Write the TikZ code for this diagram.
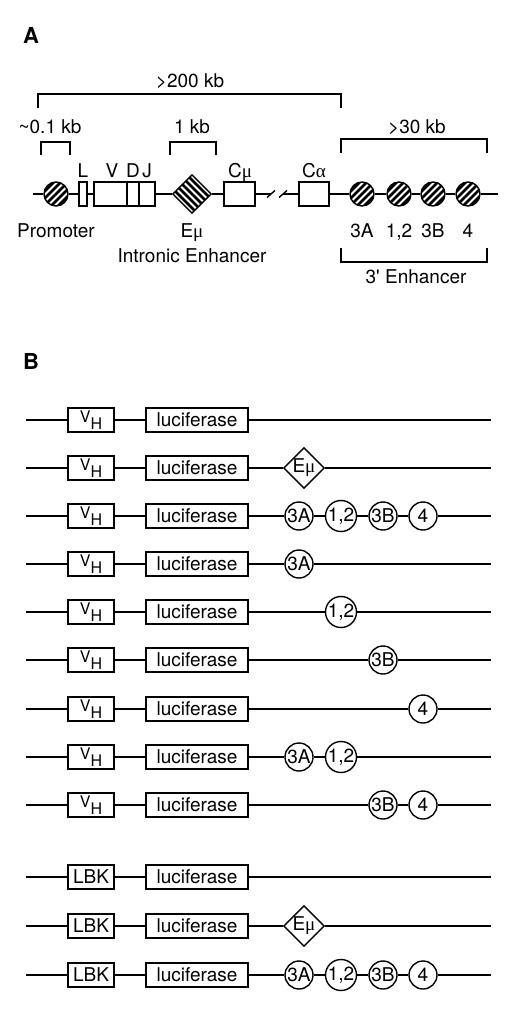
\documentclass[tikz,border=0pt]{standalone}
\usepackage{fontspec}
\setmainfont{TeX Gyre Heros}
\newfontfamily\greekfont{Liberation Serif}
\usetikzlibrary{shapes.geometric}
\tikzset{
    every node/.style={font=\fontsize{19}{21}\selectfont},
    dna/.style={line width=1.4pt},
    gene/.style={draw,line width=1.4pt,minimum height=24pt,inner sep=0pt},
    enh/.style={draw,circle,line width=1.4pt,minimum size=28pt,inner sep=0pt},
    emu/.style={draw,diamond,line width=1.4pt,minimum width=39pt,minimum height=39pt,inner sep=0pt},
    hatchup/.style={path picture={\foreach \off in {-42,-35,...,42}
        \draw[line width=2.6pt] ([xshift=\off pt]path picture bounding box.center) ++(-30pt,-30pt) -- ++(60pt,60pt);}},
    hatchdown/.style={path picture={\foreach \off in {-56,-49,...,56}
        \draw[line width=2.6pt] ([xshift=\off pt]path picture bounding box.center) ++(-30pt,30pt) -- ++(60pt,-60pt);}},
    panel/.style={font=\fontsize{22}{22}\selectfont\bfseries}
}
\def\mu{{\greekfont μ}}
\def\alp{{\greekfont α}}
\def\vh{{\fontsize{16}{16}\selectfont\raisebox{3.5pt}{V}\raisebox{-4pt}{H}}}
\def\reporter(#1)[#2]#3{% (row)[y] promoter
    \coordinate (#1s) at (26,#2);
    \coordinate (#1t) at (491,#2);
    \node[gene,minimum width=46pt] (#1p) at (91,#2) {#3};
    \node[gene,minimum width=102pt] (#1l) at (197,#2) {luciferase};}

\begin{document}
\begin{tikzpicture}[x=1pt,y=-1pt]
    % A: the locus
    \node[panel] (labA) at (31,35) {A};

    \coordinate (b200l) at (38,108);
    \coordinate (b200r) at (341,108);
    \draw[dna] (b200l) -- ++(0,-14) -| (b200r);
    \node[anchor=base] (t200) at (190,87) {>200 kb};

    \coordinate (bproml) at (41,155);
    \coordinate (bpromr) at (70,155);
    \draw[dna] (bproml) -- ++(0,-13) -| (bpromr);
    \node[anchor=base] (tprom) at (50,133) {\textasciitilde0.1 kb};

    \coordinate (bemul) at (170,155);
    \coordinate (bemur) at (216,155);
    \draw[dna] (bemul) -- ++(0,-13) -| (bemur);
    \node[anchor=base] (temu) at (192,133) {1 kb};

    \coordinate (b30l) at (341,153);
    \coordinate (b30r) at (487,153);
    \draw[dna] (b30l) -- ++(0,-14) -| (b30r);
    \node[anchor=base] (t30) at (417,133) {>30 kb};

    \coordinate (benhl) at (341,248);
    \coordinate (benhr) at (487,248);
    \draw[dna] (benhl) -- ++(0,14) -| (benhr);
    \node[anchor=base] (tenh) at (416,283) {3\textquotesingle{} Enhancer};

    \coordinate (lineA) at (33,194);
    \coordinate (endA) at (498,194);
    \coordinate (brkL) at (271,194);
    \coordinate (brkR) at (283,194);
    \node[gene,circle,minimum size=24pt,hatchup] (prom) at (56,194) {};
    \node[gene,minimum width=8pt] (Lex) at (83,194) {};
    \node[gene,minimum width=33pt] (Vex) at (110.5,194) {};
    \node[gene,minimum width=12pt] (Dex) at (133,194) {};
    \node[gene,minimum width=16pt] (Jex) at (147,194) {};
    \node[emu,hatchdown] (Emu) at (192,194) {};
    \node[gene,minimum width=31pt] (Cmu) at (239.5,194) {};
    \node[gene,minimum width=30pt] (Calpha) at (314,194) {};
    \foreach \x/\nm in {362/e3A,399/e12,433/e3B,468/e4}
        \node[enh,minimum size=24pt,hatchup] (\nm) at (\x,194) {};

    \draw[dna] (lineA) -- (prom) -- (Lex) -- (Vex);
    \draw[dna] (Jex) -- (Emu) -- (Cmu) -- (brkL);
    \draw[dna] (brkR) -- (Calpha) -- (e3A) -- (e12) -- (e3B) -- (e4) -- (endA);
    \draw[dna] ([shift={(-4,3.5)}]brkL) -- ([shift={(4,-3.5)}]brkL);
    \draw[dna] ([shift={(-4,3.5)}]brkR) -- ([shift={(4,-3.5)}]brkR);

    \node[anchor=base] (labL) at (83,177) {L};
    \node[anchor=base] (labV) at (112,177) {V};
    \node[anchor=base] (labD) at (133,177) {D};
    \node[anchor=base] (labJ) at (147,177) {J};
    \node[anchor=base] (labCmu) at (240,177) {C\mu};
    \node[anchor=base] (labCalpha) at (314,177) {C\alp};

    \node[anchor=base] (labprom) at (56,237) {Promoter};
    \node[anchor=base] (labEmu) at (192,237) {E\mu};
    \node[anchor=base] (labintr) at (192,262) {Intronic Enhancer};
    \foreach \x/\t in {362/3A,399/{1,2},433/3B,468/4}
        \node[anchor=base] at (\x,237) {\t};

    % B: reporter constructs
    \node[panel] (labB) at (31,361) {B};

    \reporter(r1)[420]{\vh}
    \draw[dna] (r1s) -- (r1p) -- (r1l) -- (r1t);

    \reporter(r2)[468]{\vh}
    \node[emu] (r2e) at (304,468) {E\mu};
    \draw[dna] (r2s) -- (r2p) -- (r2l) -- (r2e) -- (r2t);

    \reporter(r3)[516]{\vh}
    \node[enh] (r3a) at (299,516) {3A};
    \node[enh] (r3b) at (341,516) {1,2};
    \node[enh] (r3c) at (383,516) {3B};
    \node[enh] (r3d) at (423,516) {4};
    \draw[dna] (r3s) -- (r3p) -- (r3l) -- (r3a) -- (r3b) -- (r3c) -- (r3d) -- (r3t);

    \reporter(r4)[564]{\vh}
    \node[enh] (r4a) at (299,564) {3A};
    \draw[dna] (r4s) -- (r4p) -- (r4l) -- (r4a) -- (r4t);

    \reporter(r5)[612]{\vh}
    \node[enh] (r5b) at (341,612) {1,2};
    \draw[dna] (r5s) -- (r5p) -- (r5l) -- (r5b) -- (r5t);

    \reporter(r6)[660]{\vh}
    \node[enh] (r6c) at (383,660) {3B};
    \draw[dna] (r6s) -- (r6p) -- (r6l) -- (r6c) -- (r6t);

    \reporter(r7)[709]{\vh}
    \node[enh] (r7d) at (423,709) {4};
    \draw[dna] (r7s) -- (r7p) -- (r7l) -- (r7d) -- (r7t);

    \reporter(r8)[757]{\vh}
    \node[enh] (r8a) at (299,757) {3A};
    \node[enh] (r8b) at (341,757) {1,2};
    \draw[dna] (r8s) -- (r8p) -- (r8l) -- (r8a) -- (r8b) -- (r8t);

    \reporter(r9)[805]{\vh}
    \node[enh] (r9c) at (383,805) {3B};
    \node[enh] (r9d) at (423,805) {4};
    \draw[dna] (r9s) -- (r9p) -- (r9l) -- (r9c) -- (r9d) -- (r9t);

    % LBK promoter
    \reporter(r10)[877]{LBK}
    \draw[dna] (r10s) -- (r10p) -- (r10l) -- (r10t);

    \reporter(r11)[926]{LBK}
    \node[emu] (r11e) at (304,926) {E\mu};
    \draw[dna] (r11s) -- (r11p) -- (r11l) -- (r11e) -- (r11t);

    \reporter(r12)[975]{LBK}
    \node[enh] (r12a) at (299,975) {3A};
    \node[enh] (r12b) at (341,975) {1,2};
    \node[enh] (r12c) at (383,975) {3B};
    \node[enh] (r12d) at (423,975) {4};
    \draw[dna] (r12s) -- (r12p) -- (r12l) -- (r12a) -- (r12b) -- (r12c) -- (r12d) -- (r12t);

    \pgfresetboundingbox
    \useasboundingbox (0,0) rectangle (520,1009);
\end{tikzpicture}
\end{document}
